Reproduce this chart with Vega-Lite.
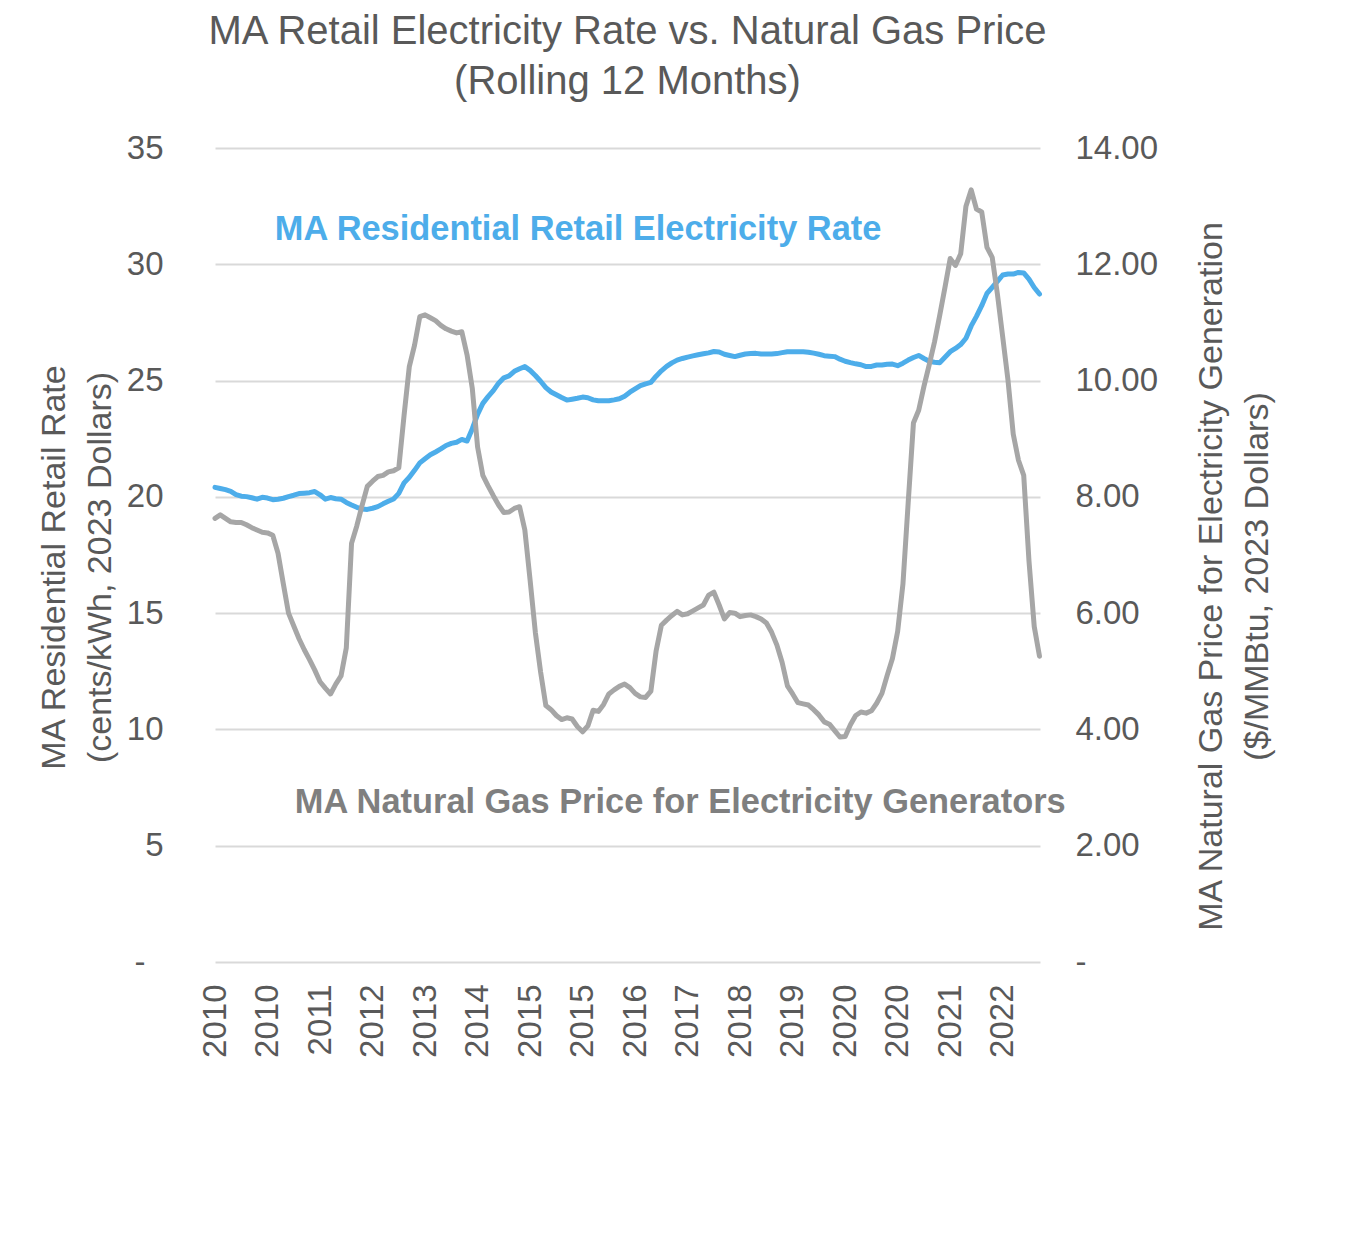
{
  "$schema": "https://vega.github.io/schema/vega-lite/v6.json",
  "autosize": {"type": "none"},
  "width": 825,
  "height": 814,
  "padding": {"left": 215, "top": 148, "right": 320, "bottom": 284},
  "background": "white",
  "title": {
    "text": ["MA Retail Electricity Rate vs. Natural Gas Price", "(Rolling 12 Months)"],
    "font": "Liberation Sans",
    "fontSize": 40,
    "fontWeight": "normal",
    "color": "#595959",
    "anchor": "middle",
    "lineHeight": 50,
    "baseline": "bottom",
    "offset": -10
  },
  "config": {
    "view": {"stroke": null},
    "font": "Liberation Sans",
    "axis": {
      "labelFont": "Liberation Sans",
      "titleFont": "Liberation Sans",
      "labelColor": "#595959",
      "titleColor": "#595959",
      "labelFontSize": 33,
      "titleFontSize": 34,
      "titleFontWeight": "normal",
      "domain": false,
      "ticks": false
    }
  },
  "datasets": {
    "elec": [
      {"m":0,"v":20.41},{"m":1,"v":20.36},{"m":2,"v":20.31},{"m":3,"v":20.24},{"m":4,"v":20.10},{"m":5,"v":20.03},{"m":6,"v":20.01},{"m":7,"v":19.96},{"m":8,"v":19.90},{"m":9,"v":19.98},
      {"m":10,"v":19.95},{"m":11,"v":19.88},{"m":12,"v":19.90},{"m":13,"v":19.94},{"m":14,"v":20.01},{"m":15,"v":20.07},{"m":16,"v":20.14},{"m":17,"v":20.16},{"m":18,"v":20.18},{"m":19,"v":20.23},
      {"m":20,"v":20.09},{"m":21,"v":19.90},{"m":22,"v":19.97},{"m":23,"v":19.92},{"m":24,"v":19.90},{"m":25,"v":19.76},{"m":26,"v":19.65},{"m":27,"v":19.55},{"m":28,"v":19.48},{"m":29,"v":19.46},
      {"m":30,"v":19.51},{"m":31,"v":19.58},{"m":32,"v":19.70},{"m":33,"v":19.81},{"m":34,"v":19.91},{"m":35,"v":20.15},{"m":36,"v":20.60},{"m":37,"v":20.84},{"m":38,"v":21.14},{"m":39,"v":21.46},
      {"m":40,"v":21.64},{"m":41,"v":21.81},{"m":42,"v":21.93},{"m":43,"v":22.06},{"m":44,"v":22.21},{"m":45,"v":22.30},{"m":46,"v":22.35},{"m":47,"v":22.47},{"m":48,"v":22.40},{"m":49,"v":22.93},
      {"m":50,"v":23.55},{"m":51,"v":24.02},{"m":52,"v":24.31},{"m":53,"v":24.57},{"m":54,"v":24.89},{"m":55,"v":25.12},{"m":56,"v":25.20},{"m":57,"v":25.40},{"m":58,"v":25.51},{"m":59,"v":25.60},
      {"m":60,"v":25.44},{"m":61,"v":25.22},{"m":62,"v":24.97},{"m":63,"v":24.70},{"m":64,"v":24.51},{"m":65,"v":24.39},{"m":66,"v":24.27},{"m":67,"v":24.16},{"m":68,"v":24.20},{"m":69,"v":24.24},
      {"m":70,"v":24.29},{"m":71,"v":24.26},{"m":72,"v":24.17},{"m":73,"v":24.13},{"m":74,"v":24.13},{"m":75,"v":24.13},{"m":76,"v":24.17},{"m":77,"v":24.22},{"m":78,"v":24.33},{"m":79,"v":24.50},
      {"m":80,"v":24.64},{"m":81,"v":24.78},{"m":82,"v":24.86},{"m":83,"v":24.92},{"m":84,"v":25.19},{"m":85,"v":25.42},{"m":86,"v":25.61},{"m":87,"v":25.76},{"m":88,"v":25.88},{"m":89,"v":25.95},
      {"m":90,"v":26.01},{"m":91,"v":26.06},{"m":92,"v":26.11},{"m":93,"v":26.15},{"m":94,"v":26.19},{"m":95,"v":26.25},{"m":96,"v":26.23},{"m":97,"v":26.13},{"m":98,"v":26.08},{"m":99,"v":26.03},
      {"m":100,"v":26.09},{"m":101,"v":26.14},{"m":102,"v":26.16},{"m":103,"v":26.17},{"m":104,"v":26.14},{"m":105,"v":26.14},{"m":106,"v":26.14},{"m":107,"v":26.16},{"m":108,"v":26.20},{"m":109,"v":26.24},
      {"m":110,"v":26.24},{"m":111,"v":26.24},{"m":112,"v":26.24},{"m":113,"v":26.22},{"m":114,"v":26.18},{"m":115,"v":26.13},{"m":116,"v":26.07},{"m":117,"v":26.05},{"m":118,"v":26.03},{"m":119,"v":25.92},
      {"m":120,"v":25.83},{"m":121,"v":25.77},{"m":122,"v":25.72},{"m":123,"v":25.68},{"m":124,"v":25.60},{"m":125,"v":25.61},{"m":126,"v":25.67},{"m":127,"v":25.67},{"m":128,"v":25.70},{"m":129,"v":25.71},
      {"m":130,"v":25.64},{"m":131,"v":25.75},{"m":132,"v":25.88},{"m":133,"v":25.99},{"m":134,"v":26.08},{"m":135,"v":25.95},{"m":136,"v":25.83},{"m":137,"v":25.79},{"m":138,"v":25.77},{"m":139,"v":26.00},
      {"m":140,"v":26.24},{"m":141,"v":26.38},{"m":142,"v":26.55},{"m":143,"v":26.82},{"m":144,"v":27.35},{"m":145,"v":27.76},{"m":146,"v":28.22},{"m":147,"v":28.75},{"m":148,"v":29.01},{"m":149,"v":29.27},
      {"m":150,"v":29.54},{"m":151,"v":29.58},{"m":152,"v":29.58},{"m":153,"v":29.65},{"m":154,"v":29.63},{"m":155,"v":29.36},{"m":156,"v":29.00},{"m":157,"v":28.72}
    ],
    "gas": [
      {"m":0,"v":7.63},{"m":1,"v":7.69},{"m":2,"v":7.63},{"m":3,"v":7.57},{"m":4,"v":7.56},{"m":5,"v":7.56},{"m":6,"v":7.52},{"m":7,"v":7.47},{"m":8,"v":7.43},{"m":9,"v":7.39},
      {"m":10,"v":7.38},{"m":11,"v":7.34},{"m":12,"v":7.03},{"m":13,"v":6.51},{"m":14,"v":6.00},{"m":15,"v":5.78},{"m":16,"v":5.56},{"m":17,"v":5.37},{"m":18,"v":5.20},{"m":19,"v":5.02},
      {"m":20,"v":4.82},{"m":21,"v":4.71},{"m":22,"v":4.61},{"m":23,"v":4.78},{"m":24,"v":4.92},{"m":25,"v":5.40},{"m":26,"v":7.20},{"m":27,"v":7.50},{"m":28,"v":7.85},{"m":29,"v":8.18},
      {"m":30,"v":8.27},{"m":31,"v":8.35},{"m":32,"v":8.37},{"m":33,"v":8.43},{"m":34,"v":8.45},{"m":35,"v":8.50},{"m":36,"v":9.40},{"m":37,"v":10.24},{"m":38,"v":10.61},{"m":39,"v":11.10},
      {"m":40,"v":11.13},{"m":41,"v":11.08},{"m":42,"v":11.03},{"m":43,"v":10.95},{"m":44,"v":10.89},{"m":45,"v":10.85},{"m":46,"v":10.82},{"m":47,"v":10.84},{"m":48,"v":10.44},{"m":49,"v":9.86},
      {"m":50,"v":8.86},{"m":51,"v":8.37},{"m":52,"v":8.19},{"m":53,"v":8.02},{"m":54,"v":7.86},{"m":55,"v":7.73},{"m":56,"v":7.74},{"m":57,"v":7.80},{"m":58,"v":7.83},{"m":59,"v":7.43},
      {"m":60,"v":6.57},{"m":61,"v":5.67},{"m":62,"v":4.99},{"m":63,"v":4.41},{"m":64,"v":4.34},{"m":65,"v":4.24},{"m":66,"v":4.17},{"m":67,"v":4.20},{"m":68,"v":4.18},{"m":69,"v":4.05},
      {"m":70,"v":3.96},{"m":71,"v":4.06},{"m":72,"v":4.33},{"m":73,"v":4.31},{"m":74,"v":4.43},{"m":75,"v":4.61},{"m":76,"v":4.68},{"m":77,"v":4.74},{"m":78,"v":4.78},{"m":79,"v":4.72},
      {"m":80,"v":4.62},{"m":81,"v":4.56},{"m":82,"v":4.55},{"m":83,"v":4.66},{"m":84,"v":5.35},{"m":85,"v":5.79},{"m":86,"v":5.88},{"m":87,"v":5.96},{"m":88,"v":6.03},{"m":89,"v":5.97},
      {"m":90,"v":5.99},{"m":91,"v":6.04},{"m":92,"v":6.09},{"m":93,"v":6.14},{"m":94,"v":6.31},{"m":95,"v":6.36},{"m":96,"v":6.14},{"m":97,"v":5.90},{"m":98,"v":6.01},{"m":99,"v":6.00},
      {"m":100,"v":5.94},{"m":101,"v":5.96},{"m":102,"v":5.97},{"m":103,"v":5.94},{"m":104,"v":5.90},{"m":105,"v":5.83},{"m":106,"v":5.67},{"m":107,"v":5.45},{"m":108,"v":5.15},{"m":109,"v":4.75},
      {"m":110,"v":4.61},{"m":111,"v":4.46},{"m":112,"v":4.44},{"m":113,"v":4.42},{"m":114,"v":4.34},{"m":115,"v":4.25},{"m":116,"v":4.13},{"m":117,"v":4.09},{"m":118,"v":3.98},{"m":119,"v":3.87},
      {"m":120,"v":3.88},{"m":121,"v":4.08},{"m":122,"v":4.24},{"m":123,"v":4.30},{"m":124,"v":4.28},{"m":125,"v":4.32},{"m":126,"v":4.45},{"m":127,"v":4.62},{"m":128,"v":4.93},{"m":129,"v":5.22},
      {"m":130,"v":5.69},{"m":131,"v":6.50},{"m":132,"v":7.90},{"m":133,"v":9.27},{"m":134,"v":9.49},{"m":135,"v":9.90},{"m":136,"v":10.27},{"m":137,"v":10.66},{"m":138,"v":11.12},{"m":139,"v":11.60},
      {"m":140,"v":12.10},{"m":141,"v":11.98},{"m":142,"v":12.18},{"m":143,"v":13.00},{"m":144,"v":13.28},{"m":145,"v":12.95},{"m":146,"v":12.90},{"m":147,"v":12.29},{"m":148,"v":12.12},{"m":149,"v":11.48},
      {"m":150,"v":10.75},{"m":151,"v":10.01},{"m":152,"v":9.08},{"m":153,"v":8.63},{"m":154,"v":8.37},{"m":155,"v":6.90},{"m":156,"v":5.77},{"m":157,"v":5.26}
    ],
    "notes": [
      {"m": 11.4, "v": 31.47, "label": "MA  Residential Retail Electricity Rate", "series": "elec"},
      {"m": 15.2, "v": 6.84, "label": "MA Natural Gas Price for Electricity Generators", "series": "gas"}
    ]
  },
  "encoding": {
    "x": {
      "field": "m",
      "type": "quantitative",
      "scale": {"domain": [0, 157.1], "nice": false, "zero": false},
      "axis": {
        "title": null,
        "grid": false,
        "values": [0, 10, 20, 30, 40, 50, 60, 70, 80, 90, 100, 110, 120, 130, 140, 150],
        "labelExpr": "'' + (2010 + floor(datum.value / 12))",
        "labelAngle": 270,
        "labelAlign": "right",
        "labelBaseline": "middle",
        "labelPadding": 22,
        "labelFlush": false,
        "labelOverlap": false
      }
    }
  },
  "layer": [
    {
      "encoding": {
        "y": {
          "field": "v",
          "type": "quantitative",
          "scale": {"domain": [0, 35], "nice": false},
          "axis": {
            "title": ["MA Residential Retail Rate", "(cents/kWh, 2023 Dollars)"],
            "values": [0, 5, 10, 15, 20, 25, 30, 35],
            "labelExpr": "datum.value == 0 ? '-' : datum.label",
            "labelPadding": {"condition": {"test": "datum.value == 0", "value": 70}, "value": 52},
            "grid": true,
            "gridColor": "#D9D9D9",
            "gridWidth": 2,
            "titleAngle": 270,
            "titleBaseline": "top",
            "titleX": -178,
            "titleY": 419,
            "titleLineHeight": 46
          }
        }
      },
      "layer": [
        {
          "data": {"name": "elec"},
          "mark": {"type": "line", "color": "#4DADEA", "strokeWidth": 5, "strokeJoin": "round", "strokeCap": "round"}
        },
        {
          "data": {"name": "notes"},
          "transform": [{"filter": "datum.series == 'elec'"}],
          "mark": {"type": "text", "align": "left", "baseline": "middle", "font": "Liberation Sans", "fontSize": 34.4, "fontWeight": "bold", "color": "#4DADEA"},
          "encoding": {"text": {"field": "label"}}
        },
        {
          "data": {"name": "notes"},
          "transform": [{"filter": "datum.series == 'gas'"}],
          "mark": {"type": "text", "align": "left", "baseline": "middle", "font": "Liberation Sans", "fontSize": 34.4, "fontWeight": "bold", "color": "#7F7F7F"},
          "encoding": {"text": {"field": "label"}}
        }
      ]
    },
    {
      "data": {"name": "gas"},
      "mark": {"type": "line", "color": "#A6A6A6", "strokeWidth": 5, "strokeJoin": "round", "strokeCap": "round"},
      "encoding": {
        "y": {
          "field": "v",
          "type": "quantitative",
          "scale": {"domain": [0, 14], "nice": false},
          "axis": {
            "orient": "right",
            "title": ["MA Natural Gas Price for Electricity Generation", "($/MMBtu, 2023 Dollars)"],
            "values": [0, 2, 4, 6, 8, 10, 12, 14],
            "format": ".2f",
            "labelExpr": "datum.value == 0 ? '-' : datum.label",
            "labelPadding": 35,
            "grid": false,
            "titleAngle": 270,
            "titleBaseline": "top",
            "titleX": 154,
            "titleY": 428,
            "titleLineHeight": 46
          }
        }
      }
    }
  ],
  "resolve": {"scale": {"y": "independent"}}
}
